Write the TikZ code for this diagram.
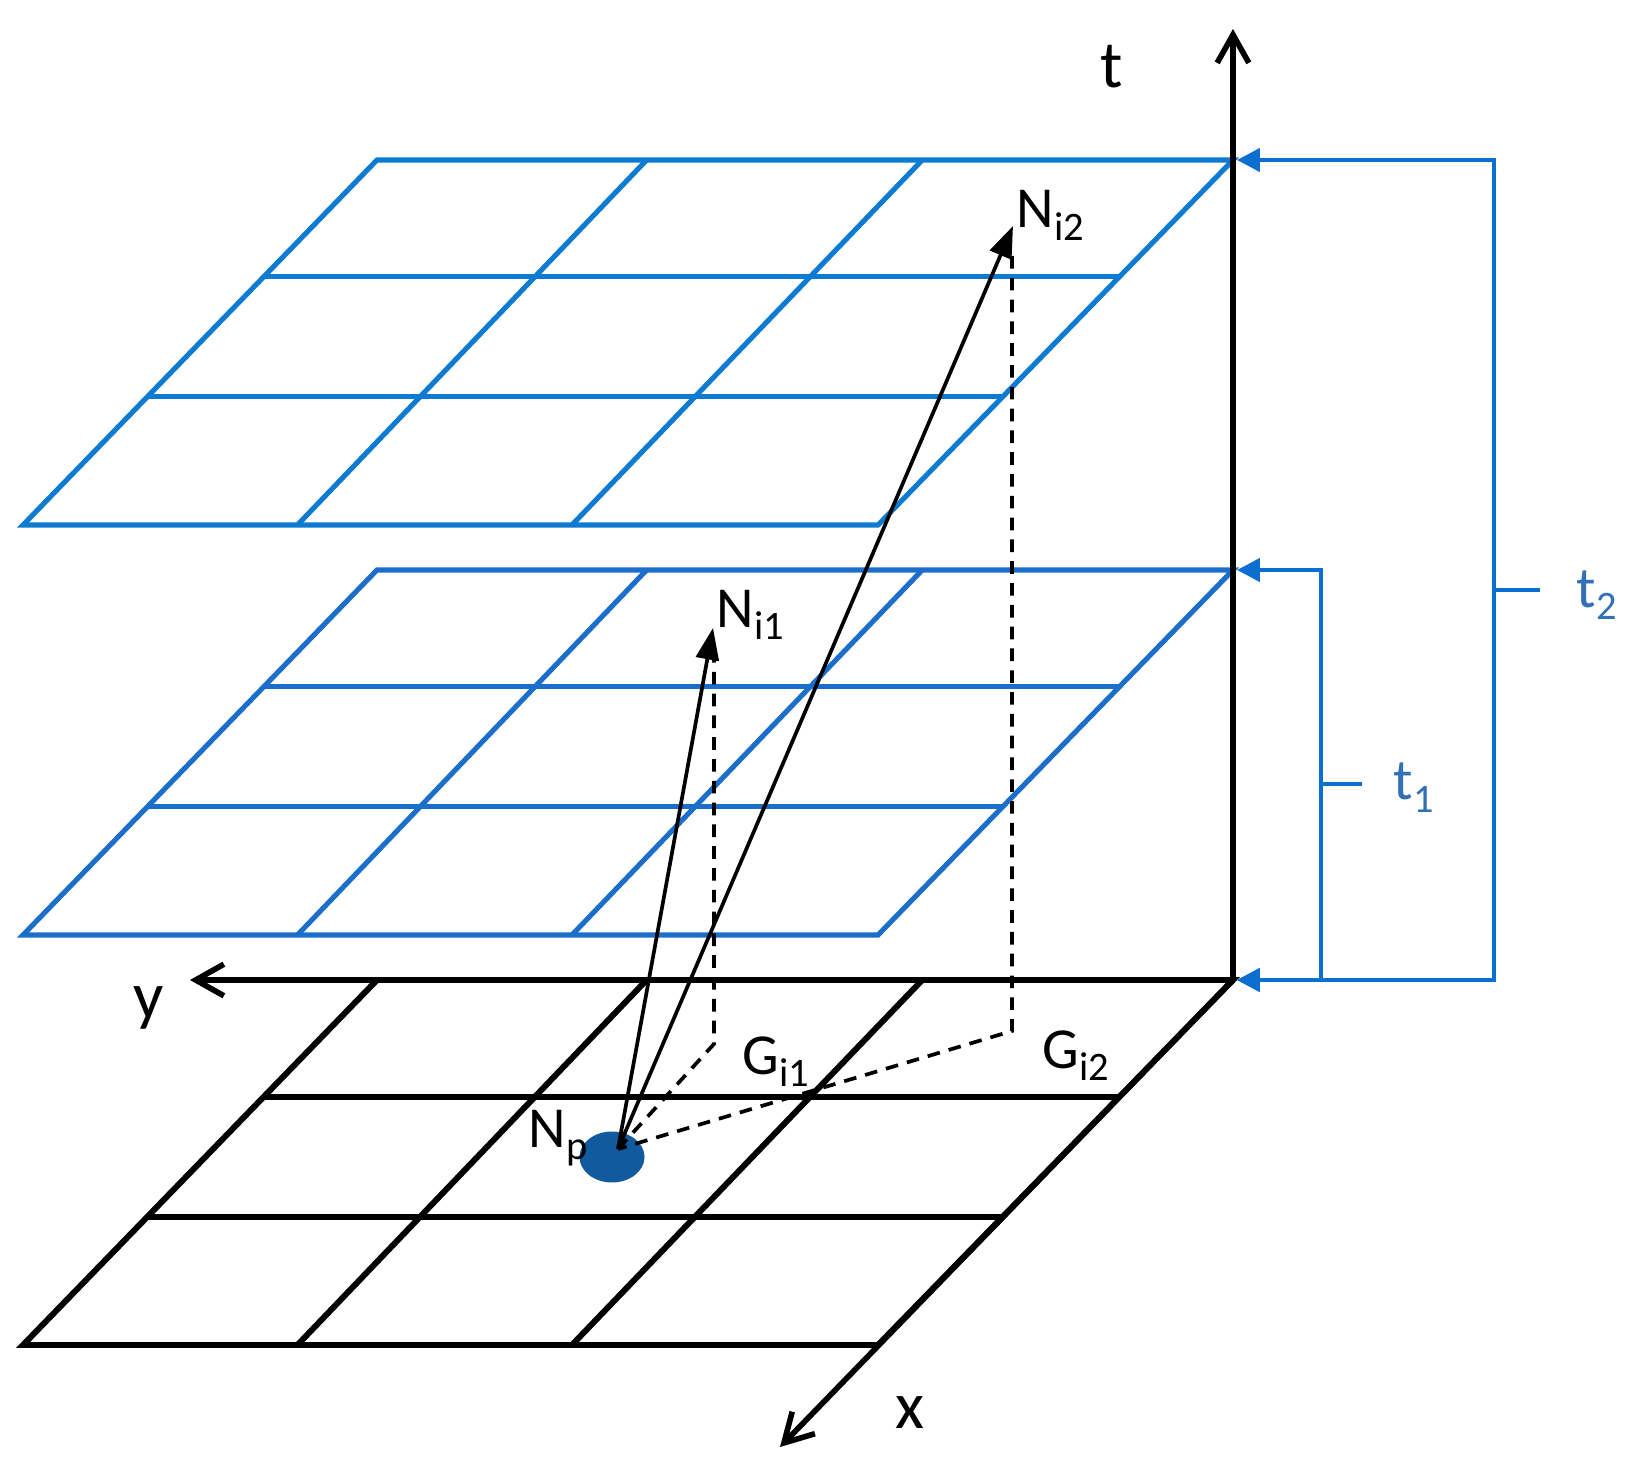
\documentclass[tikz,border=0pt]{standalone}
\usepackage{fontspec}
\setmainfont{Carlito}
\usetikzlibrary{arrows.meta,calc,shapes.geometric}
\definecolor{gridtop}{HTML}{0E7BD3}
\definecolor{gridmid}{HTML}{1C6ECB}
\definecolor{brk}{HTML}{0C6FCF}
\definecolor{brklab}{HTML}{3370B6}
\definecolor{dotblue}{HTML}{115A9E}
\newcommand{\lblsub}[2]{#1\raisebox{-3.5pt}{\fontsize{11.5}{12}\selectfont #2}}
\newcommand{\mygrid}[3]{%
  \coordinate (#1TL) at (377,#2);
  \coordinate (#1TR) at (1233,#2);
  \coordinate (#1BL) at (23,#2+365);
  \coordinate (#1BR) at (878,#2+365);
  \draw[gridline,#3] (#1TL) -- (#1TR) -- (#1BR) -- (#1BL) -- cycle;
  \foreach \f in {0.32,0.648}
    \draw[gridline,#3] ($(#1TL)!\f!(#1BL)$) -- ($(#1TR)!\f!(#1BR)$);
  \foreach \a/\b in {0.315/0.321,0.637/0.642}
    \draw[gridline,#3] ($(#1TL)!\a!(#1TR)$) -- ($(#1BL)!\b!(#1BR)$);
}
\begin{document}
\begin{tikzpicture}[x=0.01cm,y=-0.01cm,
  gridline/.style={line width=1.45pt,line join=miter},
  blackgrid/.style={black,line width=1.7pt},
  axisline/.style={line width=1.6pt,-{Straight Barb[length=8pt,width=9pt]}},
  bracket/.style={brk,line width=1.3pt},
  ptr/.style={line width=1.05pt,-{Triangle[length=9pt,width=6.5pt]}},
  dashline/.style={line width=1.05pt,dash pattern=on 3.6pt off 2.6pt},
  lab/.style={font=\fontsize{16.5}{19}\selectfont,inner sep=0pt,anchor=base west},
  axlab/.style={font=\fontsize{19}{22}\selectfont,inner sep=0pt,anchor=base west},
  blab/.style={lab,text=brklab}]
\useasboundingbox (0,0) rectangle (1641,1479);

% grids
\mygrid{G3}{160}{gridtop}
\mygrid{G2}{570}{gridmid}
\node[ellipse,fill=dotblue,inner sep=0pt,minimum width=18.5pt,minimum height=14.5pt] (dot) at (612,1157) {};
\mygrid{G1}{980}{blackgrid}

% axes
\coordinate (O) at (1233,980);
\coordinate (tTip) at (1233,29);
\coordinate (yTip) at (190,980);
\coordinate (xTip) at (780,1447);
\draw[axisline] (O) -- (tTip);
\draw[axisline] (O) -- (yTip);
\draw[axisline] (O) -- (xTip);
\node[axlab] (tlab) at (1100,88) {t};
\node[axlab] (ylab) at (133,1018) {y};
\node[axlab] (xlab) at (895,1428) {x};

% brackets
\coordinate (A2) at (1237,160);
\coordinate (A1) at (1237,570);
\coordinate (A0) at (1237,980);
\coordinate (B2t) at (1494,160);
\coordinate (B2b) at (1494,980);
\coordinate (B1t) at (1321,570);
\coordinate (B1b) at (1321,980);
\coordinate (K2) at (1494,590);
\coordinate (K2e) at (1540,590);
\coordinate (K1) at (1321,784);
\coordinate (K1e) at (1362,784);
\draw[bracket,{Triangle[length=6.5pt,width=6.5pt]}-{Triangle[length=6.5pt,width=6.5pt]}] (A2) -- (B2t) -- (B2b) -- (A0);
\draw[bracket,{Triangle[length=6.5pt,width=6.5pt]}-{Triangle[length=6.5pt,width=6.5pt]}] (A1) -- (B1t) -- (B1b) -- (A0);
\draw[bracket] (K2) -- (K2e);
\draw[bracket] (K1) -- (K1e);
\node[blab] (t2lab) at (1576,607) {\lblsub{t}{2}};
\node[blab] (t1lab) at (1393,800) {\lblsub{t}{1}};

% points and vectors
\coordinate (Np) at (618,1149);
\coordinate (Ni1) at (713,628);
\coordinate (Ni2) at (1013,226);
\coordinate (Gi1) at (714,1044);
\coordinate (Gi1t) at (714,650);
\coordinate (Gi2) at (1012,1031);
\coordinate (Gi2t) at (1012,256);
\draw[dashline] (Gi1t) -- (Gi1) -- (Np);
\draw[dashline] (Gi2t) -- (Gi2) -- (Np);
\draw[ptr] (Np) -- (Ni1);
\draw[ptr] (Np) -- (Ni2);

\node[lab] (Ni2lab) at (1016,228) {\lblsub{N}{i2}};
\node[lab] (Ni1lab) at (716,627) {\lblsub{N}{i1}};
\node[lab] (Nplab) at (528,1147) {\lblsub{N}{p}};
\node[lab] (Gi1lab) at (742,1074) {\lblsub{G}{i1}};
\node[lab] (Gi2lab) at (1042,1068) {\lblsub{G}{i2}};
\end{tikzpicture}
\end{document}
